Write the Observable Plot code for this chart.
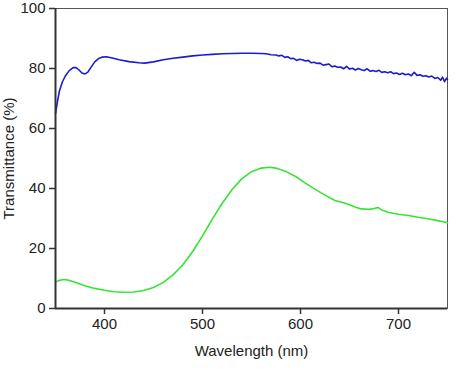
<!DOCTYPE html>
<html>
<head>
<meta charset="utf-8">
<script src="https://cdn.jsdelivr.net/npm/d3@7"></script>
<script src="https://cdn.jsdelivr.net/npm/@observablehq/plot@0.6"></script>
<style>
  html, body { margin: 0; padding: 0; background: #fff; }
</style>
</head>
<body>
<div id="chart"></div>
<script>
const blueWl = [350,352,354,357,360,364,368,371,374,377,380,383,386,390,394,398,402,408,415,425,435,441,450,460,470,480,490,500,510,520,530,540,550,560,565,570,
  575,578,581,584,587,590,593,596,599,602,605,608,611,614,617,620,623,626,629,632,635,638,641,644,647,650,653,656,659,662,665,668,671,674,677,680,683,686,689,692,695,698,701,704,707,710,713,716,719,722,725,728,731,734,737,740,743,745,747,749,750];
const blueT = [65,69,72.5,75.5,77.5,79.3,80.3,80.3,79.5,78.5,78.2,78.8,80.3,82.2,83.3,83.8,83.9,83.5,82.9,82.3,81.9,81.8,82.2,82.9,83.4,83.8,84.2,84.5,84.7,84.9,85.0,85.1,85.1,85.0,84.9,84.6,
  84.5,84.2,84.4,83.7,83.9,83.3,83.4,82.7,83.1,82.9,82.5,82.7,81.9,82.1,81.7,81.8,81.1,81.3,81.5,80.6,80.8,80.4,80.5,79.9,80.7,79.8,80.1,79.5,80.0,79.6,79.3,79.9,79.1,79.3,79.0,79.4,78.7,78.9,78.6,78.9,78.3,78.5,78.0,78.4,77.9,78.2,77.6,78.7,77.7,77.9,77.4,77.6,77.2,77.5,76.7,77.0,76.1,77.1,75.6,76.8,76.3];

const greenWl = [350,353,357,361,366,372,380,390,400,410,420,430,440,450,460,470,480,490,500,510,520,530,540,550,560,568,575,585,595,605,615,625,635,642,648,655,662,670,675,679,683,690,700,710,720,730,740,750];
const greenT = [8.8,9.3,9.6,9.6,9.2,8.5,7.6,6.7,6.1,5.6,5.4,5.5,6.0,7.0,8.7,11.2,14.6,19.0,24.2,29.8,35.0,39.6,43.2,45.6,46.8,47.1,46.8,45.7,44.0,41.8,39.7,37.8,36.0,35.4,34.8,33.9,33.2,33.1,33.3,33.7,32.8,32.0,31.4,31.0,30.4,29.9,29.3,28.6];

const xTicks = [400, 500, 600, 700];
const yTicks = [0, 20, 40, 60, 80, 100];

const blue = blueWl.map((w, i) => ({w, t: blueT[i]}));
const green = greenWl.map((w, i) => ({w, t: greenT[i]}));

const chart = Plot.plot({
  width: 474,
  height: 384,
  marginLeft: 55,
  marginRight: 27,
  marginTop: 8,
  marginBottom: 76,
  style: {fontFamily: "'Liberation Sans', Arial, sans-serif", fontSize: "15px", color: "#222", background: "#fff"},
  x: {domain: [350, 750]},
  y: {domain: [0, 100]},
  marks: [
    Plot.frame({stroke: "#555", strokeWidth: 1}),
    Plot.line(green, {x: "w", y: "t", stroke: "#33e633", strokeWidth: 1.6}),
    Plot.line(blue, {x: "w", y: "t", stroke: "#1c1ccf", strokeWidth: 1.6}),
    Plot.ruleX([350], {stroke: "#333", strokeWidth: 2}),
    Plot.ruleY([0], {stroke: "#333", strokeWidth: 2}),
    Plot.axisX({ticks: xTicks, tickSize: 6, tickPadding: 4, stroke: "#333", strokeWidth: 1.5, label: "Wavelength (nm)", labelAnchor: "center", labelArrow: "none", labelOffset: 47}),
    Plot.axisY({ticks: yTicks, tickSize: 6, tickPadding: 4, stroke: "#333", strokeWidth: 1.5, label: "Transmittance (%)", labelAnchor: "center", labelArrow: "none", labelOffset: 52})
  ]
});
document.getElementById("chart").appendChild(chart);
</script>
</body>
</html>
